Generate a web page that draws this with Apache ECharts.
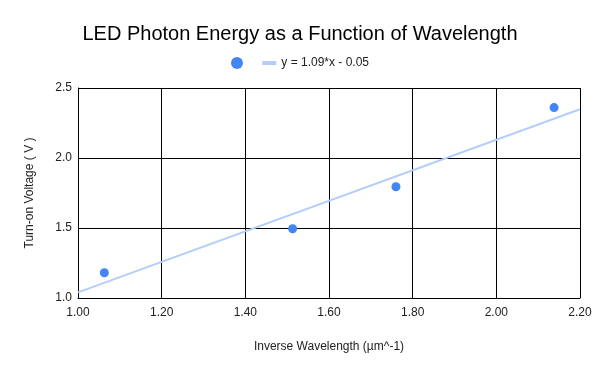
<!DOCTYPE html>
<html><head><meta charset="utf-8">
<script src="https://cdn.jsdelivr.net/npm/echarts@6/dist/echarts.min.js"></script>
<style>html,body{margin:0;padding:0;background:#fff}#c{width:600px;height:371px}</style>
</head><body><div id="c"></div>
<script>
const xValues = [1.063, 1.513, 1.760, 2.138];
const yValues = [1.18, 1.495, 1.795, 2.36];
const trendX = [1.00, 2.20];
const trendY = [1.04, 2.348];
const trendName = 'y = 1.09*x - 0.05';
const titleText = 'LED Photon Energy as a Function of Wavelength';
const xTitle = 'Inverse Wavelength (\u00b5m^-1)';
const yTitle = 'Turn-on Voltage ( V )';

const font = 'Arial, "Liberation Sans", sans-serif';
const chart = echarts.init(document.getElementById('c'), null, {renderer: 'canvas'});
chart.setOption({
  animation: false,
  backgroundColor: '#fff',
  title: {text: titleText, left: 'center', top: 19, textStyle: {fontFamily: font, fontSize: 20, fontWeight: 'normal', color: '#000'}},
  legend: {
    top: 52, left: 'center', itemGap: 10, itemWidth: 14, itemHeight: 12,
    textStyle: {fontFamily: font, fontSize: 12, color: '#222'},
    data: [
      {name: ' ', icon: 'circle'},
      {name: trendName, icon: 'path://M0,0 L14,0 L14,4 L0,4 Z'}
    ]
  },
  grid: {left: 78, right: 20, top: 88, bottom: 73, containLabel: false},
  xAxis: {
    type: 'value', min: 1.0, max: 2.2, interval: 0.2,
    name: xTitle, nameLocation: 'middle', nameGap: 43,
    nameTextStyle: {fontFamily: font, fontSize: 12, color: '#222'},
    axisLine: {show: true, lineStyle: {color: '#000', width: 1}},
    axisTick: {show: false},
    axisLabel: {fontFamily: font, fontSize: 12, color: '#222', margin: 9, formatter: v => v.toFixed(2)},
    splitLine: {show: true, lineStyle: {color: '#000', width: 1}}
  },
  yAxis: {
    type: 'value', min: 1.0, max: 2.5, interval: 0.5,
    name: yTitle, nameLocation: 'middle', nameGap: 42, nameRotate: 90,
    nameTextStyle: {fontFamily: font, fontSize: 12, color: '#222'},
    axisLine: {show: true, lineStyle: {color: '#000', width: 1}},
    axisTick: {show: false},
    axisLabel: {fontFamily: font, fontSize: 12, color: '#222', margin: 6, formatter: v => v.toFixed(1)},
    splitLine: {show: true, lineStyle: {color: '#000', width: 1}}
  },
  series: [
    {
      name: ' ', type: 'scatter', symbol: 'circle', symbolSize: 9,
      itemStyle: {color: '#4285f4', opacity: 1},
      data: xValues.map((x, i) => [x, yValues[i]]), z: 3
    },
    {
      name: trendName, type: 'line', showSymbol: false, symbol: 'none',
      lineStyle: {color: '#b3cefb', width: 2},
      itemStyle: {color: '#b3cefb'},
      data: trendX.map((x, i) => [x, trendY[i]]), z: 2
    }
  ]
});
</script></body></html>
